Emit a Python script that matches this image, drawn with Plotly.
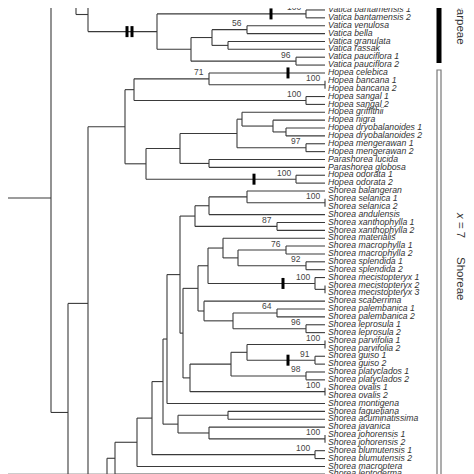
import plotly.graph_objects as go

# leaf labels, top to bottom (index = row)
leaves = [
    "Upuna borneensis", "Vatica bantamensis 1", "Vatica bantamensis 2", "Vatica venulosa",
    "Vatica bella", "Vatica granulata", "Vatica rassak", "Vatica pauciflora 1",
    "Vatica pauciflora 2", "Hopea celebica", "Hopea bancana 1", "Hopea bancana 2",
    "Hopea sangal 1", "Hopea sangal 2", "Hopea griffithii", "Hopea nigra",
    "Hopea dryobalanoides 1", "Hopea dryobalanoides 2", "Hopea mengerawan 1",
    "Hopea mengerawan 2", "Parashorea lucida", "Parashorea globosa", "Hopea odorata 1",
    "Hopea odorata 2", "Shorea balangeran", "Shorea selanica 1", "Shorea selanica 2",
    "Shorea andulensis", "Shorea xanthophylla 1", "Shorea xanthophylla 2",
    "Shorea materialis", "Shorea macrophylla 1", "Shorea macrophylla 2",
    "Shorea splendida 1", "Shorea splendida 2", "Shorea mecistopteryx 1",
    "Shorea mecistopteryx 2", "Shorea mecistopteryx 3", "Shorea scaberrima",
    "Shorea palembanica 1", "Shorea palembanica 2", "Shorea leprosula 1",
    "Shorea leprosula 2", "Shorea parvifolia 1", "Shorea parvifolia 2",
    "Shorea guiso 1", "Shorea guiso 2", "Shorea platyclados 1", "Shorea platyclados 2",
    "Shorea ovalis 1", "Shorea ovalis 2", "Shorea montigena", "Shorea faguetiana",
    "Shorea acuminatissima", "Shorea javanica", "Shorea johorensis 1",
    "Shorea johorensis 2", "Shorea blumutensis 1", "Shorea blumutensis 2",
    "Shorea macroptera", "Shorea leptoderma",
]
TIP_X = 325
ROW0, ROW_H = 2.1, 7.87

# internal nodes: name -> (depth, children); children are leaf indices,
# node names, or ("ghost", row) for branches running off the picture
nodes = {
    "root": (1, ["n51", ("ghost", 60)]),
    "n51": (51, ["n60", "n68"]),
    "n60": (60, [("ghost", -4), "n76"]),
    "n76": (76, [("ghost", -3), "n88"]),
    "n88": (88, ["nUp", "vat"]),
    "nUp": (142, [("ghost", -1.2), 0]),
    "vat": (157, ["bant", "v2"]),
    "bant": (306, [1, 2]),
    "v2": (191, ["v3", "pauc"]),
    "v3": (212, ["venu", "gran"]),
    "venu": (247, [3, 4]),
    "gran": (228, [5, 6]),
    "pauc": (296, [7, 8]),
    "n68": (68, ["n88b", ("ghost", 66)]),
    "n88b": (88, ["hs", "n107"]),
    "n107": (107, ["n115", ("ghost", 63.5)]),
    "hs": (125, ["h134", "h146"]),
    "h134": (134, ["h209", "sang"]),
    "h209": (209, [9, "banc"]),
    "banc": (325, [10, 11]),
    "sang": (306, [12, 13]),
    "h146": (146, ["h180", "odor"]),
    "h180": (180, ["h237", "para"]),
    "h237": (237, ["h242", "meng"]),
    "h242": (242, [14, "h273"]),
    "h273": (273, [15, "dryo"]),
    "dryo": (286, [16, 17]),
    "meng": (306, [18, 19]),
    "para": (209, [20, 21]),
    "odor": (296, [22, 23]),
    "n115": (115, ["n137", 60]),
    "n137": (137, ["n152", 59]),
    "n152": (152, ["n163", "blum"]),
    "blum": (315, [57, 58]),
    "n163": (163, ["n167", "n178"]),
    "n178": (178, ["fagu", "n209j"]),
    "fagu": (228, [52, 53]),
    "n209j": (209, [54, "joho"]),
    "joho": (325, [55, 56]),
    "n167": (167, ["n180s", 51]),
    "n180s": (180, ["n195", "n183"]),
    "n195": (195, ["n209s", "xant"]),
    "n209s": (209, ["n247", 27]),
    "n247": (247, [24, "sela"]),
    "sela": (325, [25, 26]),
    "xant": (277, [28, 29]),
    "n183": (183, ["n198", "n190"]),
    "n198": (198, ["n208", "n204"]),
    "n208": (208, ["n223", "meci"]),
    "n223": (223, [30, "n238"]),
    "n238": (238, ["macr", "sple"]),
    "macr": (286, [31, 32]),
    "sple": (306, [33, 34]),
    "meci": (315, [35, "meci2"]),
    "meci2": (325, [36, 37]),
    "n204": (204, [38, "n233"]),
    "n233": (233, ["pale", "lepr"]),
    "pale": (277, [39, 40]),
    "lepr": (306, [41, 42]),
    "n190": (190, ["n231", "oval"]),
    "n231": (231, ["n247b", "plat"]),
    "n247b": (247, ["parv", "guis"]),
    "parv": (325, [43, 44]),
    "guis": (315, [45, 46]),
    "plat": (306, [47, 48]),
    "oval": (325, [49, 50]),
}

# bootstrap support (node, value)
support = [
    ("bant", 100), ("venu", 56), ("pauc", 96), ("h209", 71), ("banc", 100),
    ("sang", 100), ("meng", 97), ("odor", 100), ("sela", 100), ("xant", 87),
    ("macr", 76), ("sple", 92), ("meci", 100), ("pale", 64), ("lepr", 96),
    ("parv", 100), ("guis", 91), ("plat", 98), ("oval", 100), ("joho", 100),
    ("blum", 100),
]
# black marks on stems: (node or leaf, depth)
marks = [("bant", 271), ("vat", 127), ("vat", 132), (9, 288), ("odor", 254),
         ("meci", 283), ("guis", 288)]

# the page body adds an 8px offset; shift the axes so picture pixels line up
OFF = 8


def row_y(r):
    return ROW0 + r * ROW_H


pos = {}


def place(key):
    if isinstance(key, tuple):
        return TIP_X, row_y(key[1])
    if isinstance(key, int):
        pos[key] = (TIP_X, row_y(key))
        return pos[key]
    x, kids = nodes[key]
    ys = [place(k)[1] for k in kids]
    pos[key] = (x, (min(ys) + max(ys)) / 2)
    return pos[key]


place("root")

lx, ly = [], []
for name, (x, kids) in nodes.items():
    _, y = pos[name]
    kid_pos = [place(k) for k in kids]
    lx += [x, x, None]
    ly += [min(p[1] for p in kid_pos), max(p[1] for p in kid_pos), None]
    for kx, ky in kid_pos:
        lx += [x, kx, None]
        ly += [ky, ky, None]

fig = go.Figure()
fig.add_trace(go.Scatter(x=lx, y=ly, mode="lines", line=dict(color="#3a3a3a", width=1.1),
                         hoverinfo="skip", showlegend=False))

# grey highlight on Upuna branch
fig.add_shape(type="rect", x0=142, x1=327, y0=row_y(0) - 2.5, y1=row_y(0) + 1.8,
              fillcolor="#8c8c8c", line_width=0)

for key, mx in marks:
    y = pos[key][1] if not isinstance(key, int) else row_y(key)
    fig.add_shape(type="line", x0=mx, x1=mx, y0=y - 5.5, y1=y + 5.5,
                  line=dict(color="black", width=3))

fig.add_trace(go.Scatter(
    x=[TIP_X + 3] * len(leaves), y=[row_y(i) for i in range(len(leaves))],
    mode="text", text=[f"<i>{n}</i>" for n in leaves], textposition="middle right",
    textfont=dict(family="Liberation Sans, Arial", size=8.7, color="#333"),
    hoverinfo="skip", showlegend=False, cliponaxis=False))

for key, val in support:
    x, y = pos[key]
    fig.add_annotation(x=x - 3, y=y + 0.5, text=str(val), showarrow=False,
                       xanchor="right", yanchor="bottom",
                       font=dict(family="Liberation Sans, Arial", size=8.5, color="#444"))

# clade bars on the right
fig.add_shape(type="rect", x0=436.5, x1=441.5, y0=-2, y1=63, fillcolor="black", line_width=0)
fig.add_shape(type="rect", x0=437, x1=441, y0=70, y1=490, fillcolor="white",
              line=dict(color="#777", width=1.2))
for text, y, shift in [("Dipterocarpeae", 10, 5), ("<i>x</i> = 7", 225, 0), ("Shoreae", 278, 0)]:
    fig.add_annotation(x=461, y=y, yshift=shift, text=text, textangle=90, showarrow=False,
                       font=dict(family="Liberation Sans, Arial", size=11.5, color="#333"))

fig.update_layout(
    width=474, height=474, margin=dict(l=0, r=0, t=0, b=0),
    plot_bgcolor="white", paper_bgcolor="white",
    xaxis=dict(range=[OFF, 474 + OFF], visible=False, fixedrange=True),
    yaxis=dict(range=[474 + OFF, OFF], visible=False, fixedrange=True),
)
fig.write_html("out.html")
